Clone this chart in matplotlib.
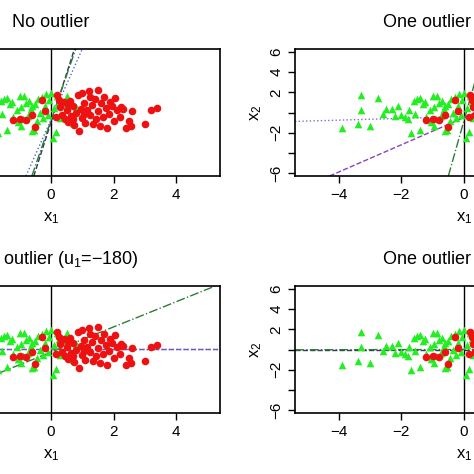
import matplotlib.pyplot as plt

plt.rcParams['font.family'] = ['Liberation Sans', 'DejaVu Sans']
plt.rcParams['mathtext.fontset'] = 'custom'
plt.rcParams['mathtext.rm'] = 'Liberation Sans'
plt.rcParams['mathtext.it'] = 'Liberation Sans'

# class 1 (green triangles)
green_x = [-3.9, -3.3, -3.3, -3.4, -3.0, -2.75, -2.5, -2.3, -2.2, -2.1, -2.0, -1.9, -1.8, -1.7, -1.6,
           -1.55, -1.5, -1.4, -1.4, -1.3, -1.25, -1.2, -1.1, -1.0, -0.95, -0.9, -0.85, -0.8, -0.75, -0.7,
           -0.65, -0.6, -0.55, -0.5, -0.45, -0.4, -0.35, -0.3, -0.25, -0.2, -0.15, -0.1, -0.05, 0.0, 0.05,
           0.1, 0.15, 0.2, 0.3, 0.4, 0.5, 0.6, 0.7, 0.8, -1.05, -2.6, -1.75, -0.95, 0.25, -0.6]
green_y = [-1.5, 1.7, 0.2, -1.1, -1.3, 1.4, 0.3, 0.3, -0.3, 0.6, -0.2, -0.4, -0.6, -2.0, 1.1,
           -0.1, 1.3, -1.7, 1.4, 0.8, 1.0, -0.4, 0.2, 1.6, 0.5, -0.6, 1.6, 0.9, -0.3, 1.1,
           0.3, -1.8, -1.7, 0.8, -0.8, 1.3, 0.0, 1.5, -0.5, 0.6, 1.8, -0.2, 1.2, 1.9, -2.5,
           0.4, -1.9, 1.6, -0.5, 0.8, 1.6, -0.3, -1.0, 0.5, -0.9, -0.1, 0.2, -1.3, 1.0, 0.6]

# class 2 (red circles)
red_x = [-1.0, -0.8, -0.5, -0.3, -0.2, -1.2, -0.6,
         0.2, 0.3, 0.35, 0.4, 0.45, 0.5, 0.55, 0.6, 0.65, 0.7, 0.75, 0.8, 0.85, 0.9, 0.95, 1.0, 1.0,
         1.05, 1.1, 1.15, 1.2, 1.25, 1.3, 1.35, 1.4, 1.45, 1.5, 1.5, 1.55, 1.6, 1.65, 1.7, 1.75, 1.8,
         1.85, 1.9, 2.0, 2.05, 2.1, 2.2, 2.3, 2.4, 2.5, 2.55, 2.6, 3.0, 3.2, 3.4, 0.15, 0.25, 1.25,
         0.55, 0.7, 1.05, 2.25, 1.95]
red_y = [-0.6, -0.7, -1.4, 1.2, 0.1, -0.7, -0.2,
         1.7, 0.5, -0.2, 1.0, -0.6, 0.2, -0.9, 1.1, -0.3, 0.6, -1.2, 0.0, 1.7, -1.8, 0.3, 1.9, -0.5,
         0.9, -1.0, 0.2, 2.1, -0.2, 0.7, -1.1, 1.3, -0.6, 2.2, 0.1, -1.3, 0.9, -0.4, 1.5, 0.4, -1.5,
         -0.1, 1.0, -0.8, 1.4, 0.2, -0.4, 0.3, -1.5, -0.8, -1.3, 0.1, -1.1, 0.2, 0.4, -0.4, 1.2, 1.5,
         0.8, -0.6, -0.1, 0.5, 0.6]

titles = ['No outlier', 'One outlier (u$_1$=\u221220)',
          'One outlier (u$_1$=\u2212180)', 'One outlier (u$_1$=\u221250)']

# fitted boundaries per panel: (slope, intercept, style, colour)
lines = [
    [(7.0, -0.7, ':', '#5566cc'), (9.7, -0.97, '--', '#333366'), (9.0, -0.8, '-.', '#2e7d32')],
    [(0.09, -0.4, ':', '#8866cc'), (1.35, -0.5, '--', '#8844bb'), (11.0, -0.8, '-.', '#2e7d32')],
    [(0.0, 0.05, '--', '#8844bb'), (0.0, 0.02, ':', '#5566cc'), (1.25, -0.26, '-.', '#2e7d32')],
    [(0.0, 0.0, '--', '#333366'), (0.005, 0.0, '-.', '#2e7d32')],
]

W = 474
fig = plt.figure(figsize=(4.74, 4.74), dpi=100)
boxes = [(-118, 49), (295, 49), (-118, 286), (295, 286)]
for i, (px, py) in enumerate(boxes):
    ax = fig.add_axes([px / W, 1 - (py + 127) / W, 338 / W, 127 / W])
    ax.set_xlim(-5.4, 5.4)
    ax.set_ylim(-6.3, 6.3)
    ax.axvline(0, color='black', lw=1)
    for m, b, ls, c in lines[i]:
        ax.axline((0, b), slope=m, ls=ls, color=c, lw=1)
    ax.scatter(green_x, green_y, marker='^', s=30, color='#22ee22', zorder=3, linewidths=0)
    ax.scatter(red_x, red_y, marker='o', s=30, color='#ee1111', zorder=3, linewidths=0)
    ax.set_xticks([-4, -2, 0, 2, 4])
    ax.set_yticks([-6, -4, -2, 0, 2, 4, 6])
    ax.set_yticklabels(['\u22126', '', '\u22122', '', '2', '4', '6'], rotation=90, va='center')
    ax.set_xticklabels(['\u22124', '\u22122', '0', '2', '4'])
    ax.tick_params(labelsize=11, length=5, width=1)
    for s in ax.spines.values():
        s.set_linewidth(1.2)
    ax.set_xlabel('x$_1$', fontsize=12, labelpad=6)
    ax.set_ylabel('x$_2$', fontsize=12, labelpad=4)
    ax.set_title(titles[i], fontsize=13, pad=16)

fig.savefig('out.png', dpi=100)
